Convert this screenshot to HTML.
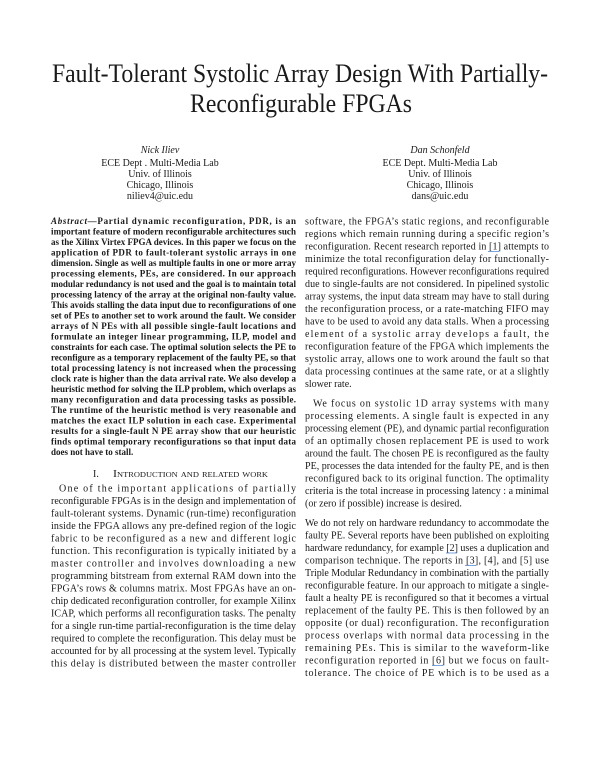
<!DOCTYPE html>
<html><head><meta charset="utf-8"><style>
html,body{margin:0;padding:0;background:#fff;}
svg{display:block;}
text{font-family:"Liberation Serif",serif;fill:#1a1a1a;}
.b{font-size:10px;}
.a{font-size:9px;font-weight:bold;}
</style></head><body>
<svg width="600" height="776" viewBox="0 0 600 776" xmlns="http://www.w3.org/2000/svg">
<text x="52" y="82" font-size="26" textLength="496" lengthAdjust="spacingAndGlyphs">Fault-Tolerant Systolic Array Design With Partially-</text>
<text x="190" y="112" font-size="26" textLength="222" lengthAdjust="spacingAndGlyphs">Reconfigurable FPGAs</text>

<g class="b" text-anchor="middle">
<text x="160" y="153" font-style="italic">Nick Iliev</text>
<text x="160" y="166">ECE Dept . Multi-Media Lab</text>
<text x="160" y="177">Univ. of Illinois</text>
<text x="160" y="188">Chicago, Illinois</text>
<text x="160" y="199">niliev4@uic.edu</text>
<text x="440" y="153" font-style="italic">Dan Schonfeld</text>
<text x="440" y="166">ECE Dept. Multi-Media Lab</text>
<text x="440" y="177">Univ. of Illinois</text>
<text x="440" y="188">Chicago, Illinois</text>
<text x="440" y="199">dans@uic.edu</text>
</g>

<g class="a">
<text x="51" y="224" textLength="245" lengthAdjust="spacing"><tspan font-style="italic">Abstract</tspan>—Partial dynamic reconfiguration, PDR, is an</text>
<text x="51" y="234.5" textLength="245" lengthAdjust="spacing">important feature of modern reconfigurable architectures such</text>
<text x="51" y="245" textLength="245" lengthAdjust="spacing">as the Xilinx Virtex FPGA devices. In this paper we focus on the</text>
<text x="51" y="255.5" textLength="245" lengthAdjust="spacing">application of PDR to fault-tolerant systolic arrays in one</text>
<text x="51" y="266" textLength="245" lengthAdjust="spacing">dimension. Single as well as multiple faults in one or more array</text>
<text x="51" y="276.5" textLength="245" lengthAdjust="spacing">processing elements, PEs, are considered. In our approach</text>
<text x="51" y="287" textLength="245" lengthAdjust="spacing">modular redundancy is not used and the goal is to maintain total</text>
<text x="51" y="297.5" textLength="245" lengthAdjust="spacing">processing latency of the array at the original non-faulty value.</text>
<text x="51" y="308" textLength="245" lengthAdjust="spacing">This avoids stalling the data input due to reconfigurations of one</text>
<text x="51" y="318.5" textLength="245" lengthAdjust="spacing">set of PEs to another set to work around the fault. We consider</text>
<text x="51" y="329" textLength="245" lengthAdjust="spacing">arrays of N PEs with all possible single-fault locations and</text>
<text x="51" y="339.5" textLength="245" lengthAdjust="spacing">formulate an integer linear programming, ILP, model and</text>
<text x="51" y="350" textLength="245" lengthAdjust="spacing">constraints for each case. The optimal solution selects the PE to</text>
<text x="51" y="360.5" textLength="245" lengthAdjust="spacing">reconfigure as a temporary replacement of the faulty PE, so that</text>
<text x="51" y="371" textLength="245" lengthAdjust="spacing">total processing latency is not increased when the processing</text>
<text x="51" y="381.5" textLength="245" lengthAdjust="spacing">clock rate is higher than the data arrival rate. We also develop a</text>
<text x="51" y="392" textLength="245" lengthAdjust="spacing">heuristic method for solving the ILP problem, which overlaps as</text>
<text x="51" y="402.5" textLength="245" lengthAdjust="spacing">many reconfiguration and data processing tasks as possible.</text>
<text x="51" y="413" textLength="245" lengthAdjust="spacing">The runtime of the heuristic method is very reasonable and</text>
<text x="51" y="423.5" textLength="245" lengthAdjust="spacing">matches the exact ILP solution in each case. Experimental</text>
<text x="51" y="434" textLength="245" lengthAdjust="spacing">results for a single-fault N PE array show that our heuristic</text>
<text x="51" y="444.5" textLength="245" lengthAdjust="spacing">finds optimal temporary reconfigurations so that input data</text>
<text x="51" y="455">does not have to stall.</text>
</g>

<text x="93" y="477" font-size="10">I.</text>
<text x="113" y="477" font-size="10" style="font-variant:small-caps" textLength="155" lengthAdjust="spacingAndGlyphs">Introduction and related work</text>

<g class="b">
<text x="59" y="491.5" textLength="237" lengthAdjust="spacing">One of the important applications of partially</text>
<text x="51" y="504" textLength="245" lengthAdjust="spacing">reconfigurable FPGAs is in the design and implementation of</text>
<text x="51" y="516.5" textLength="245" lengthAdjust="spacing">fault-tolerant systems. Dynamic (run-time) reconfiguration</text>
<text x="51" y="529" textLength="245" lengthAdjust="spacing">inside the FPGA allows any pre-defined region of the logic</text>
<text x="51" y="541.5" textLength="245" lengthAdjust="spacing">fabric to be reconfigured as a new and different logic</text>
<text x="51" y="554" textLength="245" lengthAdjust="spacing">function.  This reconfiguration is typically initiated by a</text>
<text x="51" y="566.5" textLength="245" lengthAdjust="spacing">master controller and involves downloading a new</text>
<text x="51" y="579" textLength="245" lengthAdjust="spacing">programming bitstream from external RAM down into the</text>
<text x="51" y="591.5" textLength="245" lengthAdjust="spacing">FPGA’s rows &amp; columns matrix. Most FPGAs have an on-</text>
<text x="51" y="604" textLength="245" lengthAdjust="spacing">chip dedicated reconfiguration controller, for example Xilinx</text>
<text x="51" y="616.5" textLength="245" lengthAdjust="spacing">ICAP, which performs all reconfiguration tasks. The penalty</text>
<text x="51" y="629" textLength="245" lengthAdjust="spacing">for a single run-time partial-reconfiguration is the time delay</text>
<text x="51" y="641.5" textLength="245" lengthAdjust="spacing">required to complete the reconfiguration. This delay must be</text>
<text x="51" y="654" textLength="245" lengthAdjust="spacing">accounted for by all processing at the system level. Typically</text>
<text x="51" y="666.5" textLength="245" lengthAdjust="spacing">this delay is distributed between the master controller</text>

<text x="305" y="224.5" textLength="244" lengthAdjust="spacing">software, the FPGA’s static regions, and reconfigurable</text>
<text x="305" y="237" textLength="244" lengthAdjust="spacing">regions which remain running during a specific region’s</text>
<text x="305" y="249.5" textLength="244" lengthAdjust="spacing">reconfiguration. Recent research reported in [1] attempts to</text>
<text x="305" y="262" textLength="244" lengthAdjust="spacing">minimize the total reconfiguration delay for functionally-</text>
<text x="305" y="274.5" textLength="244" lengthAdjust="spacing">required reconfigurations. However reconfigurations required</text>
<text x="305" y="287" textLength="244" lengthAdjust="spacing">due to single-faults are not considered. In pipelined systolic</text>
<text x="305" y="299.5" textLength="244" lengthAdjust="spacing">array systems, the input data stream may have to stall during</text>
<text x="305" y="312" textLength="244" lengthAdjust="spacing">the reconfiguration process, or a rate-matching FIFO may</text>
<text x="305" y="324.5" textLength="244" lengthAdjust="spacing">have to be used to avoid any data stalls. When a processing</text>
<text x="305" y="337" textLength="244" lengthAdjust="spacing">element of a systolic array develops a fault, the</text>
<text x="305" y="349.5" textLength="244" lengthAdjust="spacing">reconfiguration feature of the FPGA which implements the</text>
<text x="305" y="362" textLength="244" lengthAdjust="spacing">systolic array, allows one to work around the fault so that</text>
<text x="305" y="374.5" textLength="244" lengthAdjust="spacing">data processing continues at the same rate, or at a slightly</text>
<text x="305" y="387">slower rate.</text>

<text x="313" y="406.5" textLength="236" lengthAdjust="spacing">We focus on systolic 1D array systems with many</text>
<text x="305" y="419" textLength="244" lengthAdjust="spacing">processing elements. A single fault is expected in any</text>
<text x="305" y="431.5" textLength="244" lengthAdjust="spacing">processing element (PE), and dynamic partial reconfiguration</text>
<text x="305" y="444" textLength="244" lengthAdjust="spacing">of an optimally chosen replacement PE is used to work</text>
<text x="305" y="456.5" textLength="244" lengthAdjust="spacing">around the fault. The chosen PE is reconfigured as the faulty</text>
<text x="305" y="469" textLength="244" lengthAdjust="spacing">PE, processes the data intended for the faulty PE, and is then</text>
<text x="305" y="481.5" textLength="244" lengthAdjust="spacing">reconfigured back to its original function. The optimality</text>
<text x="305" y="494" textLength="244" lengthAdjust="spacing">criteria is the total increase in processing latency : a minimal</text>
<text x="305" y="506.5">(or zero if possible) increase is desired.</text>

<text x="305" y="526" textLength="244" lengthAdjust="spacing">We do not rely on hardware redundancy to accommodate the</text>
<text x="305" y="538.5" textLength="244" lengthAdjust="spacing">faulty PE. Several reports have been published on exploiting</text>
<text x="305" y="551" textLength="244" lengthAdjust="spacing">hardware redundancy, for example [2] uses a duplication and</text>
<text x="305" y="563.5" textLength="244" lengthAdjust="spacing">comparison technique. The reports in [3], [4], and [5] use</text>
<text x="305" y="576" textLength="244" lengthAdjust="spacing">Triple Modular Redundancy in combination with the partially</text>
<text x="305" y="588.5" textLength="244" lengthAdjust="spacing">reconfigurable feature. In our approach to mitigate a single-</text>
<text x="305" y="601" textLength="244" lengthAdjust="spacing">fault a healty PE is reconfigured so that it becomes a virtual</text>
<text x="305" y="613.5" textLength="244" lengthAdjust="spacing">replacement of the faulty PE. This is then followed by an</text>
<text x="305" y="626" textLength="244" lengthAdjust="spacing">opposite (or dual) reconfiguration. The reconfiguration</text>
<text x="305" y="638.5" textLength="244" lengthAdjust="spacing">process overlaps with normal data processing in the</text>
<text x="305" y="651" textLength="244" lengthAdjust="spacing">remaining PEs. This is similar to the waveform-like</text>
<text x="305" y="663.5" textLength="244" lengthAdjust="spacing">reconfiguration reported in [6] but we focus on fault-</text>
<text x="305" y="676" textLength="244" lengthAdjust="spacing">tolerance. The choice of PE which is to be used as a</text>
</g>
<g stroke="#5b8fd6" stroke-width="0.8">
<line x1="488" y1="251.5" x2="499" y2="251.5"/>
<line x1="446" y1="553" x2="457" y2="553"/>
<line x1="465" y1="565.5" x2="476" y2="565.5"/>
<line x1="432" y1="665.5" x2="443" y2="665.5"/>
</g>
</svg>
</body></html>
